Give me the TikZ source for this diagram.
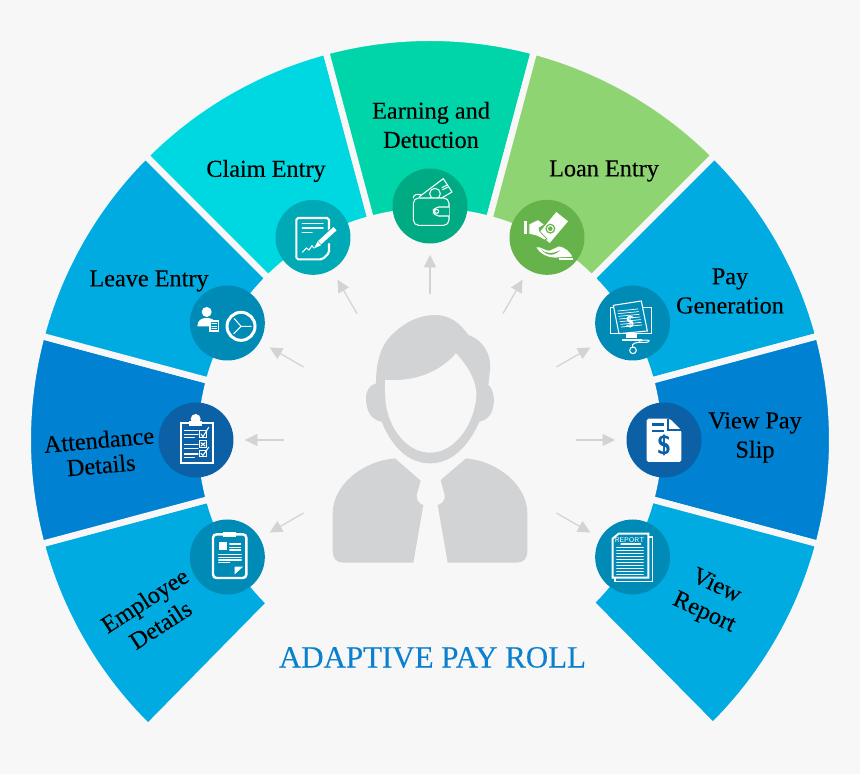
\documentclass[tikz,border=0pt]{standalone}
\usepackage{fontspec}
\setmainfont{Liberation Serif}
\newfontfamily\labelfont[FakeBold=0.25]{Liberation Serif}
\usetikzlibrary{arrows.meta}
\definecolor{bgcolor}{HTML}{F7F7F7}
\definecolor{personcolor}{HTML}{D1D3D4}
\definecolor{skyblue}{HTML}{00ABE2}
\definecolor{skybadge}{HTML}{008BB7}
\definecolor{deepblue}{HTML}{0081D2}
\definecolor{deepbadge}{HTML}{0B60A6}
\definecolor{cyanseg}{HTML}{00D8E1}
\definecolor{cyanbadge}{HTML}{00A9B6}
\definecolor{tealseg}{HTML}{00D5AA}
\definecolor{tealbadge}{HTML}{00AB83}
\definecolor{greenseg}{HTML}{8FD473}
\definecolor{greenbadge}{HTML}{67B34B}
\definecolor{titlecolor}{HTML}{0B80CF}
\newcommand{\ringpart}[3]{\draw[segment, fill=#1] (#2:4.575) arc (#2:#3:4.575) -- (#3:8.045) arc (#3:#2:8.045) -- cycle;}

\begin{document}
\begin{tikzpicture}

		\tikzset{segment/.style = {draw=bgcolor, line width=0.13cm, line join=miter}}
		\tikzset{badge/.style = {shape=circle, minimum size=1.5cm, inner sep=0pt}}
		\tikzset{seglabel/.style = {align=center, inner sep=0pt, font=\labelfont\fontsize{13.8}{16.6}\selectfont}}
		\tikzset{flow/.style = {draw=personcolor, line width=0.7pt, -{Triangle[length=0.25cm,width=0.24cm]}, shorten <=2.92cm, shorten >=0.22cm}}
		\tikzset{icon/.style = {x=0.00667cm, y=-0.00667cm, line width=0.8pt, draw=white, line cap=round}}
		\tikzset{thin line/.style = {line width=0.6pt}}

		% background
		\useasboundingbox (-8.6,-6.68) rectangle (8.6,8.8);
		\fill[bgcolor] (-8.6,-6.68) rectangle (8.6,8.8);
		\coordinate (hub) at (0,0);

		% ring
		\ringpart{skyblue}{225.5}{195}
		\ringpart{deepblue}{195}{165}
		\ringpart{skyblue}{165}{135}
		\ringpart{cyanseg}{135}{105}
		\ringpart{tealseg}{105}{75}
		\ringpart{greenseg}{75}{45}
		\ringpart{skyblue}{45}{15}
		\ringpart{deepblue}{15}{-15}
		\ringpart{skyblue}{-15}{-45.3}

		% badges
		\node[badge, fill = skybadge] (employee) at (210:4.68) {};
		\node[badge, fill = deepbadge] (attendance) at (180:4.68) {};
		\node[badge, fill = skybadge] (leave) at (150:4.68) {};
		\node[badge, fill = cyanbadge] (claim) at (120:4.68) {};
		\node[badge, fill = tealbadge] (earning) at (90:4.68) {};
		\node[badge, fill = greenbadge] (loan) at (60:4.68) {};
		\node[badge, fill = skybadge] (pay) at (30:4.68) {};
		\node[badge, fill = deepbadge] (slip) at (0:4.68) {};
		\node[badge, fill = skybadge] (report) at (-30:4.68) {};

		% arrows
		\draw[flow] (hub) to (employee);
		\draw[flow] (hub) to (attendance);
		\draw[flow] (hub) to (leave);
		\draw[flow] (hub) to (claim);
		\draw[flow] (hub) to (earning);
		\draw[flow] (hub) to (loan);
		\draw[flow] (hub) to (pay);
		\draw[flow] (hub) to (slip);
		\draw[flow] (hub) to (report);

		% person
		\begin{scope}[shift={(-2.2,2.8)}, x=0.00667cm, y=-0.00667cm]
			\fill[personcolor] (168,250) .. controls (168,190) and (180,140) .. (215,105) .. controls (255,65) and (300,45) .. (345,45) .. controls (390,45) and (420,70) .. (445,105) .. controls (490,120) and (515,165) .. (510,210) -- (505,255) .. controls (525,270) and (527,320) .. (510,345) .. controls (500,358) and (490,362) .. (478,365) .. controls (445,440) and (395,490) .. (330,490) .. controls (265,490) and (215,440) .. (185,365) .. controls (155,360) and (138,335) .. (138,295) .. controls (138,270) and (150,255) .. (168,250) -- cycle;
			\fill[bgcolor] (195,240) .. controls (290,245) and (360,215) .. (408,160) .. controls (450,205) and (475,255) .. (468,300) .. controls (455,390) and (395,458) .. (330,458) .. controls (265,458) and (205,390) .. (196,300) -- cycle;
			\fill[personcolor] (225,475) -- (302,542) -- (290,585) .. controls (288,600) and (298,612) .. (310,615) -- (280,788) -- (70,788) .. controls (50,788) and (38,775) .. (38,755) -- (38,640) .. controls (38,560) and (120,485) .. (225,475) -- cycle;
			\fill[personcolor] (438,475) -- (362,540) -- (374,585) .. controls (376,600) and (366,612) .. (353,615) -- (383,788) -- (590,788) .. controls (610,788) and (622,775) .. (622,755) -- (622,640) .. controls (622,560) and (540,485) .. (438,475) -- cycle;
		\end{scope}

		% employee icon
		\begin{scope}[shift={(employee.center)}, icon]
			\draw[line width=1.4pt, rounded corners=2pt] (-43,-68) rectangle (57,63);
			\fill[white] (-13,-76) rectangle (27,-59);
			\fill[white] (-26,-44) rectangle (-2,-21);
			\draw[thin line] (7,-39) -- (40,-39) (7,-29) -- (40,-29) (7,-21) -- (40,-21);
			\draw[thin line] (-26,-8) -- (42,-8) (-26,1) -- (42,1) (-26,9) -- (42,9) (-26,17) -- (7,17);
			\fill[white] (22,52) -- (47,29) -- (22,29) -- cycle;
		\end{scope}

		% attendance icon
		\begin{scope}[shift={(attendance.center)}, icon]
			\draw[line width=1.1pt] (-46,-52) rectangle (50,68);
			\fill[white] (-1,-63) circle (15);
			\fill[white] (-21,-58) rectangle (19,-43);
			\draw[thin line] (-35,-28) -- (6,-28) (-35,-17) -- (6,-17) (-35,-7) -- (-5,-7) (-35,13) -- (6,13) (-35,25) -- (6,25) (-35,42) -- (6,42) (-35,53) -- (-5,53);
			\draw[thin line] (11,-28) rectangle (31,-8) (11,2) rectangle (31,22) (11,32) rectangle (31,50);
			\draw[thin line] (15,-18) -- (21,-10) -- (38,-38) (15,40) -- (21,46) -- (38,22) (15,8) -- (27,18) (27,8) -- (15,18);
		\end{scope}

		% leave icon
		\begin{scope}[shift={(leave.center)}, icon]
			\fill[white] (-62,-33) circle (15);
			\fill[white] (-90,10) .. controls (-90,-10) and (-75,-15) .. (-62,-15) .. controls (-50,-15) and (-35,-10) .. (-33,5) -- (-52,10) -- cycle;
			\draw[thin line, fill=skybadge] (-52,-6) rectangle (-27,24);
			\draw[line width=0.3pt] (-47,2) -- (-32,2) (-47,9) -- (-32,9) (-47,16) -- (-32,16);
			\draw[line width=1.7pt] (41,10) circle (42);
			\draw[thin line] (41,10) -- (21,-13) (41,10) -- (71,10) (41,10) -- (19,32);
		\end{scope}

		% claim icon
		\begin{scope}[shift={(claim.center)}, icon]
			\draw[line width=1.2pt, rounded corners=1pt] (48,-10) -- (48,-58) -- (-50,-58) -- (-50,66) -- (28,66) -- (48,47) -- (48,20);
			\draw[line width=0.8pt] (-32,-42) -- (30,-42) (-32,-28) -- (30,-28) (-32,-15) -- (-3,-15);
			\draw[thin line] (-32,45) -- (-20,32) -- (-12,38) -- (-3,25) -- (2,32);
			\draw[cyanbadge, line width=3.8pt] (68,-28) -- (18,18);
			\draw[line width=2.6pt, line cap=butt] (66,-26) -- (20,16);
			\fill[white] (14,12) -- (24,24) -- (3,33) -- cycle;
		\end{scope}

		% earning icon
		\begin{scope}[shift={(earning.center)}, icon]
			\draw[thin line, fill=tealbadge] (-32,-28) -- (40,-82) -- (66,-42) -- (28,-20);
			\draw[thin line] (36,-55) -- (50,-62) (38,-49) -- (52,-56);
			\draw[thin line, fill=tealbadge] (15,-37) circle (16);
			\draw[thin line, fill=tealbadge, rounded corners=3pt] (-50,-24) rectangle (57,58);
			\draw[thin line, fill=tealbadge] (-50,-24) .. controls (-50,-34) and (-40,-36) .. (-28,-34);
			\draw[thin line, fill=tealbadge, rounded corners=3pt] (57,3) -- (10,3) -- (10,30) -- (57,30);
			\draw[thin line] (20,16) circle (6);
		\end{scope}

		% loan icon
		\begin{scope}[shift={(loan.center)}, icon]
			\fill[white] (28,-76) -- (63,-48) -- (8,17) -- (-25,-12) -- cycle;
			\fill[greenbadge] (10,-26) circle (15);
			\draw[thin line] (10,-26) circle (9);
			\fill[white] (-70,-48) rectangle (-60,-10);
			\draw[greenbadge, fill=white, line width=0.4pt] (-54,-40) -- (-27,-53) -- (-7,-38) -- (-24,-28) -- (-22,-18) -- (0,5) -- (-8,8) -- (-30,-4) -- (-54,-10) -- cycle;
			\fill[white] (-32,30) .. controls (-20,26) and (-5,42) .. (8,40) -- (36,27) .. controls (55,30) and (70,45) .. (76,58) -- (36,60) .. controls (5,64) and (-20,50) .. (-32,30) -- cycle;
			\fill[greenbadge] (-18,36) .. controls (-5,48) and (15,52) .. (40,38) .. controls (20,58) and (0,56) .. (-18,36) -- cycle;
			\fill[white] (36,62) rectangle (78,67);
		\end{scope}

		% pay icon
		\begin{scope}[shift={(pay.center)}, icon]
			\draw[thin line] (-66,-46) rectangle (56,32);
			\draw[thin line, fill=skybadge] (-58,-53) -- (26,-66) -- (44,24) -- (-41,32) -- cycle;
			\draw[line width=0.4pt] (-44,-36) -- (16,-42) (-44,-28) -- (18,-34) (-42,-20) -- (20,-26) (-40,-12) -- (22,-18) (-38,-4) -- (24,-10) (-36,4) -- (26,-2) (-34,12) -- (28,6);
			\node[text=white, inner sep=0pt, font=\sffamily\bfseries\small] (paydollar) at (-7,-3) {\$};
			\fill[white] (-21,34) rectangle (14,44);
			\fill[white] (-33,49) rectangle (29,54);
			\draw[thin line] (19,54) .. controls (55,45) and (60,60) .. (30,58) .. controls (15,57) and (-6,60) .. (0,72);
			\draw[thin line] (1,82) circle (10);
		\end{scope}

		% slip icon
		\begin{scope}[shift={(slip.center)}, icon]
			\fill[white, rounded corners=1pt] (-52,-64) -- (17,-64) -- (52,-29) -- (52,66) -- (-52,66) -- cycle;
			\draw[deepbadge, line width=1.1pt, line cap=butt] (13,-64) -- (13,-29) -- (52,-29);
			\draw[deepbadge, line width=1.6pt, line cap=butt] (-35,-47) -- (1,-47) (-35,-27) -- (1,-27);
			\node[text=deepbadge, inner sep=0pt, font=\sffamily\bfseries\fontsize{15}{15}\selectfont] (slipdollar) at (0,16) {\$};
		\end{scope}

		% report icon
		\begin{scope}[shift={(report.center)}, icon]
			\draw[line width=0.9pt] (50,-60) -- (59,-60) -- (59,74) -- (-53,74) -- (-53,62);
			\draw[line width=1.1pt] (-60,-55) -- (-42,-70) -- (47,-70) -- (47,62) -- (-60,62) -- cycle;
			\node[text=white, inner sep=0pt, font=\sffamily\fontsize{4}{4}\selectfont] (reporthead) at (-9,-51) {REPORT};
			\draw[thin line] (-35,-39) -- (24,-39);
			\draw[line width=0.45pt] (-48,-30) -- (32,-30) (-48,-21) -- (32,-21) (-48,-12) -- (32,-12) (-48,-3) -- (32,-3) (-48,6) -- (32,6) (-48,15) -- (32,15) (-48,24) -- (32,24) (-48,33) -- (32,33) (-48,42) -- (32,42) (-48,51) -- (32,51);
		\end{scope}

		% labels
		\node[seglabel, rotate=33] (employeelabel) at (-5.55,-3.45) {Employee\\Details};
		\node[seglabel, rotate=5, font=\labelfont\fontsize{13.8}{14.4}\selectfont] (attendancelabel) at (-6.6,-0.25) {Attendance\\Details};
		\node[seglabel] (leavelabel) at (-5.62,3.18) {Leave Entry};
		\node[seglabel] (claimlabel) at (-3.28,5.38) {Claim Entry};
		\node[seglabel] (earninglabel) at (0.02,6.3) {Earning and\\Detuction};
		\node[seglabel] (loanlabel) at (3.48,5.38) {Loan Entry};
		\node[seglabel] (paylabel) at (6,2.98) {Pay\\Generation};
		\node[seglabel] (sliplabel) at (6.5,0.05) {View Pay\\Slip};
		\node[seglabel, rotate=-25] (reportlabel) at (5.6,-3.2) {View\\Report};

		% title
		\node[text=titlecolor, inner sep=0pt, font=\labelfont\fontsize{17.6}{20}\selectfont] (title) at (0.05,-4.35) {ADAPTIVE PAY ROLL};

\end{tikzpicture}
\end{document}
